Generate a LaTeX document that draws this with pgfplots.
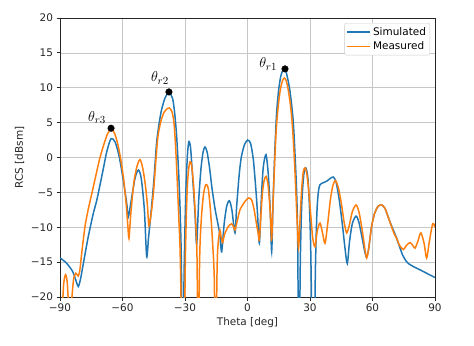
\documentclass[border=0pt]{standalone}
\usepackage{pgfplots}
\pgfplotsset{compat=1.18}
\usepackage{fontspec}
\setmainfont{DejaVu Sans}
\definecolor{mblue}{HTML}{1F77B4}
\definecolor{morange}{HTML}{FF7F0E}
\begin{document}
\begin{tikzpicture}[x=1bp,y=1bp]
\useasboundingbox (0,0) rectangle (474,345);
\begin{axis}[
  at={(60bp,48bp)}, anchor=south west, scale only axis,
  width=375bp, height=279bp,
  xmin=-90, xmax=90, ymin=-20, ymax=20,
  xtick={-90,-60,-30,0,30,60,90},
  xticklabels={−90,−60,−30,0,30,60,90},
  ytick={-20,-15,-10,-5,0,5,10,15,20},
  yticklabels={−20,−15,−10,−5,0,5,10,15,20},
  tick label style={font=\fontsize{10.5}{12}\selectfont, text=black!85},
  grid=major, grid style={color=black!22, line width=0.7pt},
  axis line style={line width=0.8pt, color=black!85},
  tick style={line width=0.8pt, color=black!85},
  tick align=outside, tick pos=left, major tick length=3.5bp,
  every axis x label/.style={at={(axis description cs:0.5,0)}, anchor=center, yshift=-26bp},
  every axis y label/.style={at={(axis description cs:0,0.5)}, anchor=center, rotate=90, yshift=40.5bp},
  xlabel={Theta [deg]}, ylabel={RCS [dBsm]},
  label style={font=\fontsize{10.5}{12}\selectfont, text=black!85},
  legend style={at={(rel axis cs:0.987,0.982)}, anchor=north east, draw=black!20,
    rounded corners=2bp, fill=white, font=\fontsize{10.5}{12}\selectfont,
    inner sep=2bp, row sep=1bp},
  legend cell align=left,
  legend image code/.code={\draw[#1, line width=1.5pt] (0bp,0bp) -- (23bp,0bp);},
]
\addplot[mblue, line width=1.5pt, smooth, tension=0.45] coordinates {
(-90,-14.4) (-87,-15.1) (-84,-16.3) (-82.5,-17.5) (-81.2,-18.5) (-80,-17.2) (-78.8,-15.2)
(-76.4,-11.3) (-74,-8.0) (-72.4,-6.2) (-70.5,-3.5) (-69,-1.3) (-67.5,0.9) (-65.5,2.7)
(-63.5,2.2) (-61.5,0) (-59.5,-3.5) (-58,-6.5) (-57.2,-8.5) (-56,-6.5) (-54,-3.0) (-52.4,-1.8)
(-51,-3.0) (-49.5,-7.5) (-48.4,-14.2) (-47.5,-11.5) (-46.5,-8.5) (-45,-3.5) (-43.5,2.5)
(-41.5,6.5) (-39.5,8.6) (-37.7,9.3) (-36,8.5) (-35,6.5) (-34,3.0) (-33,-2.5) (-32.3,-8)
(-31.7,-16) (-31.2,-35) (-30.4,-16) (-29.6,-5) (-28.8,0.5) (-28.1,2.3) (-27.3,1.3)
(-26.3,-3) (-25.2,-8) (-24.4,-12.4) (-23.4,-6) (-22.3,-1.5) (-21.3,0.8) (-20.4,1.5)
(-19.4,0.8) (-18.2,-1.5) (-17,-4.5) (-15.5,-7.5) (-14.2,-9.5) (-13.3,-11) (-12.4,-13.5)
(-11.2,-9.5) (-10,-7) (-8.7,-6.2) (-7.5,-7.5) (-6.0,-10.8) (-5.2,-7) (-4,-2.5) (-3,0)
(-1.5,1.8) (0.1,2.5) (1.5,2.0) (2.8,-0.3) (4,-4.5) (4.8,-8) (5.7,-12.3) (6.7,-5.5)
(7.6,-1.3) (8.9,0.4) (10,-2.5) (10.9,-7.5) (11.6,-13.5) (12.3,-6) (13.2,1.5) (14.0,6.5)
(15,9.8) (16,11.7) (17,12.5) (17.7,12.6) (18.5,12.3) (19.5,11) (20.4,9.5) (21.2,7.5)
(22,5) (22.8,0.5) (23.6,-5.1) (24.1,-12) (24.7,-35) (25.3,-16) (26,-7) (27,-2.5) (28,-1.5)
(29,-3) (29.8,-7.5) (30.4,-14) (31.6,-35) (32.6,-16) (33.3,-8) (34,-5) (34.8,-3.9)
(36.5,-3.6) (38,-3.4) (39.7,-3.0) (41.2,-2.8) (42.5,-3.5) (44,-6) (45.5,-9.5) (46.8,-13)
(47.9,-15.2) (49,-12) (50.3,-9.5) (52.1,-8.4) (53.5,-9.3) (55,-11.5) (56.3,-13.5)
(57.2,-14.3) (58.2,-13) (59.5,-10) (61,-8) (62.7,-7) (64.4,-6.8) (66,-7.3) (67.5,-8.5)
(69,-9.7) (70,-10.4) (71.5,-11.5) (73,-12.8) (74.5,-14.0) (76,-14.8) (77.2,-15.2)
(80,-15.7) (82.8,-16.1) (86,-16.6) (90,-17.2)
};
\addlegendentry{Simulated}
\addplot[morange, line width=1.5pt, smooth, tension=0.45] coordinates {
(-90,-25) (-89,-22) (-88.2,-18) (-87.3,-16.8) (-86.5,-18) (-85.8,-22) (-85.3,-25)
(-84.5,-21) (-83.5,-17.5) (-82.4,-16.6) (-81.3,-17) (-80.5,-16.2) (-79.5,-13.5) (-78,-9.9)
(-76.5,-7.5) (-74.6,-5.0) (-72.5,-2.2) (-70.8,0) (-68.5,2.3) (-67,3.5) (-65.5,4.0)
(-64,3.6) (-62.5,2.2) (-61,0) (-59.5,-3) (-58.3,-6.5) (-57.5,-9.5) (-56.9,-11.6) (-56,-8)
(-54.5,-3.5) (-53,-1.2) (-51.6,-0.3) (-50.3,-1.5) (-49,-4) (-48,-7) (-47.3,-9.8) (-46,-7.5)
(-45,-4.5) (-44,-0.5) (-43,3) (-41.5,5.3) (-40,6.5) (-38.5,7.0) (-37.5,7.1) (-36.3,6.6)
(-35.3,5.0) (-34.5,1.5) (-33.7,-3.5) (-33,-8.5) (-32.3,-14) (-30.8,-35) (-29.8,-14)
(-29,-5) (-28.3,-1.8) (-27.6,-0.6) (-26.9,-1.0) (-26.0,-3.5) (-25.0,-8.5) (-24.2,-15)
(-23.7,-35) (-23.0,-15) (-22.2,-9) (-21.2,-5.5) (-20.3,-4.1) (-19.6,-3.9) (-18.8,-4.5)
(-17.8,-7.5) (-16.8,-12) (-15.9,-18) (-15.5,-35) (-14.6,-16) (-14.0,-12) (-13.2,-10.4)
(-12.6,-11.5) (-11.9,-12.2) (-11,-11) (-9.2,-9.9) (-7.6,-9.5) (-6.6,-10.0) (-6.0,-10.4)
(-5,-9.2) (-3.6,-7.5) (-1.2,-6.3) (0.6,-5.8) (2.0,-6.1) (3.2,-7.5) (4.3,-9.5) (5.2,-11.0)
(5.7,-11.8) (6.4,-8.5) (7.2,-5) (8.0,-3.3) (8.9,-2.7) (9.8,-3.8) (10.6,-6.5) (11.2,-9.5)
(11.6,-11.8) (12.2,-7) (13,-1) (13.8,4) (14.8,7.5) (15.8,9.8) (16.8,11.0) (17.7,11.4)
(18.6,11.0) (19.5,9.8) (20.4,8.0) (21.3,5.5) (22.2,1.5) (23,-3.5) (23.8,-9) (24.5,-13.0)
(25.2,-9) (26,-4.5) (26.8,-2.0) (27.6,-1.5) (28.4,-2.2) (29.3,-4.5) (30.3,-8) (31.3,-11.5)
(32.4,-12.8) (33.5,-10.5) (34.8,-9.4) (36,-10.8) (37.2,-12.3) (38.5,-9.5) (39.8,-6)
(41,-4) (42.2,-3.3) (43.5,-4.2) (45,-6.5) (46.4,-9.3) (47.6,-10.8) (48.8,-9.8) (50.3,-7.8)
(52.1,-6.8) (53.5,-7.8) (55,-10.3) (56.3,-13) (57.2,-14.4) (58.2,-13) (59.5,-10) (61,-8)
(62.7,-7.0) (64.4,-6.8) (66,-7.3) (67.5,-8.5) (69,-9.8) (70.5,-11) (71.6,-11.6) (73,-12.6)
(74.8,-13.2) (76.3,-12.6) (78,-12.2) (79.3,-12.6) (80.4,-13.0) (81.8,-12) (83.2,-10.8)
(84.7,-12.2) (86,-14.4) (87.3,-12) (88.9,-9.5) (90,-10)
};
\addlegendentry{Measured}
\addplot[only marks, mark=*, mark size=3.3bp, black, forget plot] coordinates {
(-65.5,4.2) (-37.7,9.4) (18.0,12.7)
};
\node[font=\fontsize{15}{17}\selectfont] at (axis cs:-72.2,5.7) {$\theta_{r3}$};
\node[font=\fontsize{15}{17}\selectfont] at (axis cs:-42,11.4) {$\theta_{r2}$};
\node[font=\fontsize{15}{17}\selectfont] at (axis cs:9.9,13.4) {$\theta_{r1}$};
\end{axis}
\end{tikzpicture}
\end{document}
